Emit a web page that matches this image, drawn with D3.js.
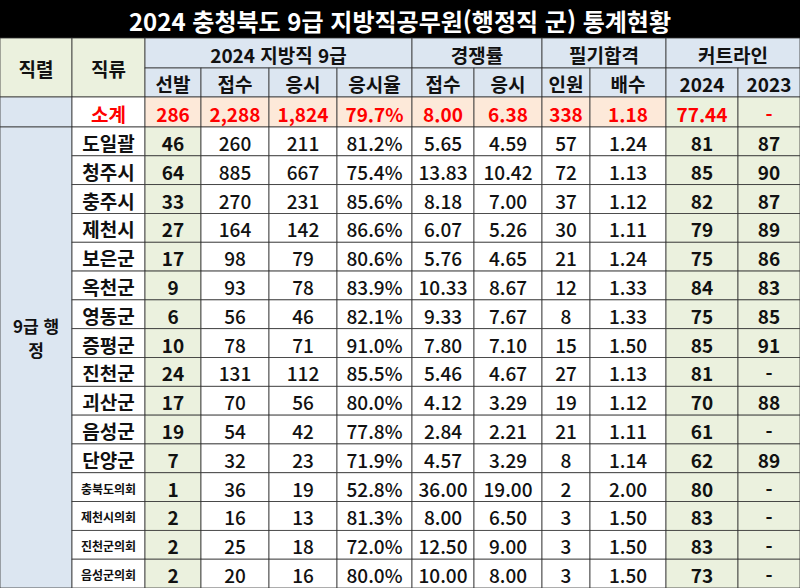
<!DOCTYPE html>
<html lang="ko">
<head>
<meta charset="utf-8">
<script src="https://cdn.jsdelivr.net/npm/d3@7"></script>
<style>
body { margin: 0; background: #fff; }
svg { display: block; font-family: "Noto Sans CJK KR", sans-serif; }
</style>
</head>
<body>
<svg width="800" height="588"></svg>
<script>
var title = '2024 충청북도 9급 지방직공무원(행정직 군) 통계현황';
var regions = ['도일괄','청주시','충주시','제천시','보은군','옥천군','영동군','증평군','진천군','괴산군','음성군','단양군','충북도의회','제천시의회','진천군의회','음성군의회'];
var seats    = [46,64,33,27,17,9,6,10,24,17,19,7,1,2,2,2];
var applied  = [260,885,270,164,98,93,56,78,131,70,54,32,36,16,25,20];
var tested   = [211,667,231,142,79,78,46,71,112,56,42,23,19,13,18,16];
var testRate = ['81.2%','75.4%','85.6%','86.6%','80.6%','83.9%','82.1%','91.0%','85.5%','80.0%','77.8%','71.9%','52.8%','81.3%','72.0%','80.0%'];
var compApp  = ['5.65','13.83','8.18','6.07','5.76','10.33','9.33','7.80','5.46','4.12','2.84','4.57','36.00','8.00','12.50','10.00'];
var compTest = ['4.59','10.42','7.00','5.26','4.65','8.67','7.67','7.10','4.67','3.29','2.21','3.29','19.00','6.50','9.00','8.00'];
var passed   = [57,72,37,30,21,12,8,15,27,19,21,8,2,3,3,3];
var passMul  = ['1.24','1.13','1.12','1.11','1.24','1.33','1.33','1.50','1.13','1.12','1.11','1.14','2.00','1.50','1.50','1.50'];
var cut2024  = [81,85,82,79,75,84,75,85,81,70,61,62,80,83,83,73];
var cut2023  = ['87','90','87','89','86','83','85','91','-','88','-','89','-','-','-','-'];
var total    = ['286','2,288','1,824','79.7%','8.00','6.38','338','1.18','77.44','-'];

var svg = d3.select('svg');
var edges = [0,72,145,201,269,337,412,474,542,590,666,738,800];
var x = i => edges[i], w = i => edges[i+1] - edges[i];
var rowY = d3.scaleLinear().domain([0, regions.length]).range([127, 588]);
var blue = '#dce6f1', green = '#ebf1de', pink = '#fde9d9';

function cell(x0, y0, ww, hh, fill, txt, opts) {
  opts = opts || {};
  svg.append('rect').attr('x', x0).attr('y', y0).attr('width', ww).attr('height', hh)
    .attr('fill', fill).attr('stroke', '#333').attr('stroke-width', 0.8);
  if (txt != null) svg.append('text').attr('x', x0 + ww/2).attr('y', y0 + hh/2 + 1)
    .attr('text-anchor', 'middle').attr('dominant-baseline', 'central')
    .attr('font-size', opts.size || 19).attr('font-weight', opts.weight || 500)
    .attr('fill', opts.color || '#111').text(txt);
}

// title
svg.append('rect').attr('width', 800).attr('height', 38).attr('fill', '#000');
svg.append('text').attr('x', 400).attr('y', 20).attr('text-anchor', 'middle')
  .attr('dominant-baseline', 'central').attr('fill', '#fff')
  .attr('font-size', 24).attr('font-weight', 700).text(title);

// headers
cell(x(0), 38, w(0), 59, green, '직렬', {weight: 700});
cell(x(1), 38, w(1), 59, green, '직류', {weight: 700});
[['2024 지방직 9급',2,6],['경쟁률',6,8],['필기합격',8,10],['커트라인',10,12]].forEach(function (g) {
  cell(x(g[1]), 38, x(g[2]) - x(g[1]), 30, blue, g[0], {weight: 700});
});
['선발','접수','응시','응시율','접수','응시','인원','배수','2024','2023'].forEach(function (t, i) {
  cell(x(i+2), 68, w(i+2), 29, blue, t, {weight: 700});
});

// total row
cell(x(0), 97, w(0), 30, blue, null);
cell(x(1), 97, w(1), 30, '#fff', '소계', {color: '#ff0000', weight: 700});
total.forEach(function (t, i) {
  cell(x(i+2), 97, w(i+2), 30, i >= 8 ? green : pink, t, {color: '#ff0000', weight: 700});
});

// body rows
cell(x(0), rowY(0), w(0), rowY(regions.length) - rowY(0), blue, null);
['9급 행', '정'].forEach(function (t, i) {
  svg.append('text').attr('x', 36).attr('y', 333 + i * 24).attr('text-anchor', 'middle')
    .attr('font-size', 17).attr('font-weight', 700).attr('fill', '#111').text(t);
});

regions.forEach(function (r, k) {
  var y0 = rowY(k), hh = rowY(k+1) - y0;
  var vals = [seats[k], applied[k], tested[k], testRate[k], compApp[k], compTest[k], passed[k], passMul[k], cut2024[k], cut2023[k]];
  cell(x(1), y0, w(1), hh, '#fff', r, {size: r.length > 3 ? 12 : 19, weight: 700});
  vals.forEach(function (v, i) {
    var fill = (i === 0 || i >= 8) ? green : '#fff';
    cell(x(i+2), y0, w(i+2), hh, fill, v, {weight: (i === 0 || i >= 8) ? 700 : 500});
  });
});
</script>
</body>
</html>
